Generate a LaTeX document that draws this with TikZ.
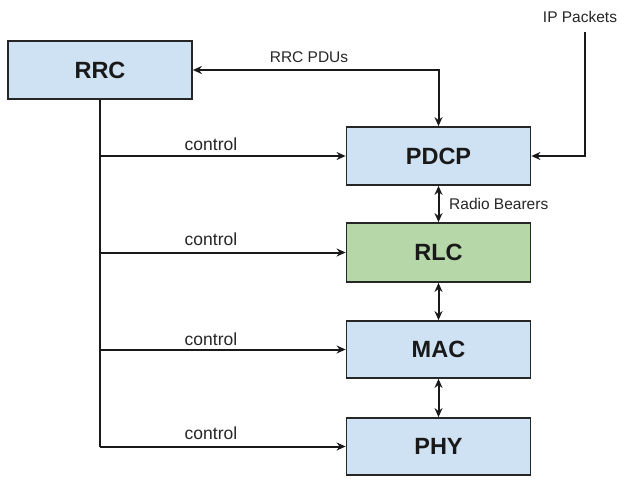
\documentclass[tikz,border=0pt]{standalone}
\usepackage{fontspec}
\setmainfont{Liberation Sans}
\usetikzlibrary{arrows.meta}
\definecolor{boxblue}{HTML}{CFE2F3}
\definecolor{boxgreen}{HTML}{B6D7A8}
\begin{document}
\begin{tikzpicture}[x=1pt,y=-1pt,
  layer/.style={draw=black!85,line width=1.8pt,minimum width=184pt,minimum height=58pt,inner sep=0pt,font=\fontsize{23.5}{26}\selectfont\bfseries,text=black!90},
  conn/.style={line width=2pt,black!90,-{Stealth[length=9pt,width=8pt]}},
  biconn/.style={line width=2pt,black!90,{Stealth[length=9pt,width=8pt]}-{Stealth[length=9pt,width=8pt]}},
  lbl/.style={font=\fontsize{15.5}{18}\selectfont,text=black!85,inner sep=0pt},
  ctl/.style={font=\fontsize{17.5}{20}\selectfont,text=black!85,inner sep=0pt}]
\useasboundingbox (0,0) rectangle (624,493);
\fill[white] (0,0) rectangle (624,493);
\node[layer,fill=boxblue] (rrc) at (100,70) {RRC};
\node[layer,fill=boxblue] (pdcp) at (438.5,156) {PDCP};
\node[layer,fill=boxgreen,minimum height=59pt] (rlc) at (438.5,252.5) {RLC};
\node[layer,fill=boxblue,minimum height=57pt] (mac) at (438.5,349.5) {MAC};
\node[layer,fill=boxblue,minimum height=57pt] (phy) at (438.5,446.5) {PHY};
% RRC PDUs
\coordinate (pdu) at (pdcp.north |- rrc.east);
\draw[biconn] (rrc.east) -- (pdu) -- (pdcp.north);
\node[lbl] (pdulbl) at (309,57) {RRC PDUs};
% IP packets
\node[lbl] (ip) at (580,17) {IP Packets};
\coordinate (iptop) at (585,32);
\coordinate (ipc) at (585,156);
\draw[conn] (iptop) -- (ipc) -- (pdcp.east);
% control bus
\coordinate (busend) at (rrc.south |- phy.west);
\draw[line width=2pt,black!90] (rrc.south) -- (busend);
\foreach \t/\y/\ly in {pdcp/156/144, rlc/252.5/239, mac/349.5/339, phy/446.5/433}{
  \draw[conn] (100,\y) -- (\t.west);
  \node[ctl] at (211,\ly) {control};
}
% vertical links
\draw[biconn] (pdcp.south) -- (rlc.north);
\node[lbl,anchor=west] (rb) at (449,204) {Radio Bearers};
\draw[biconn] (rlc.south) -- (mac.north);
\draw[biconn] (mac.south) -- (phy.north);
\end{tikzpicture}
\end{document}
